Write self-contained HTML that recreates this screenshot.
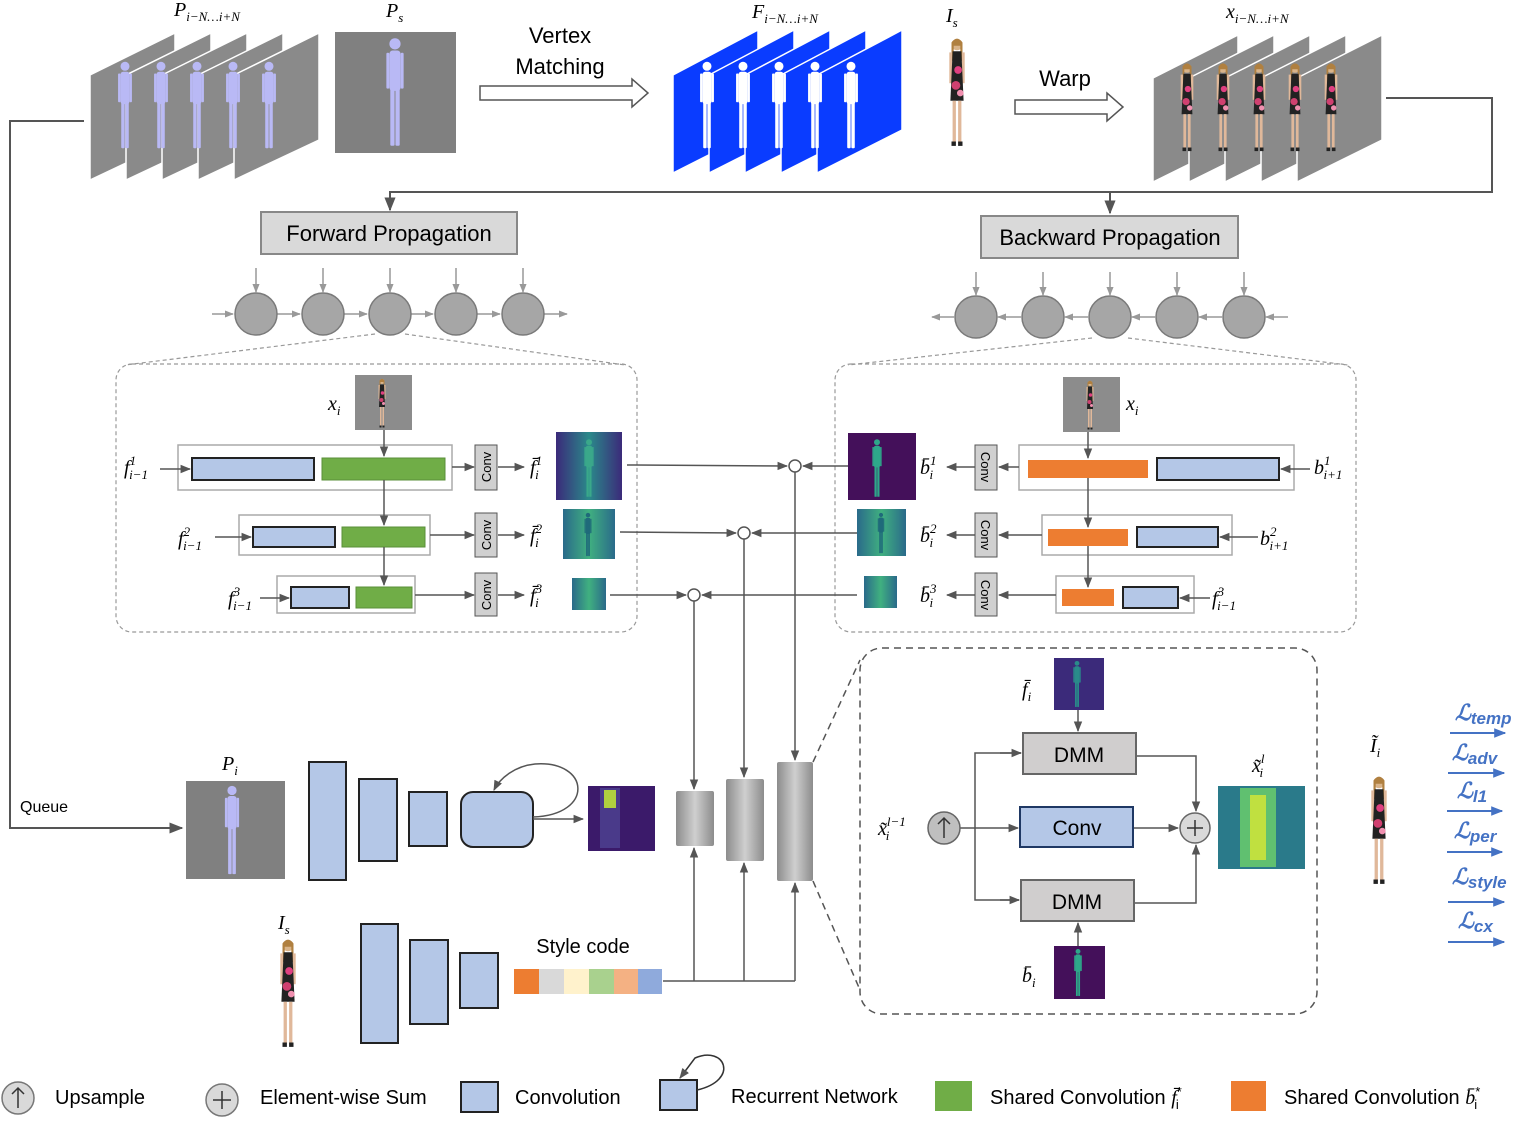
<!DOCTYPE html>
<html><head><meta charset="utf-8"><style>
html,body{margin:0;padding:0;background:#fff}
svg{display:block}
text{font-family:"Liberation Sans",sans-serif}
.m{font-family:"Liberation Serif",serif;font-style:italic;font-size:20px}
.s{font-size:13px}
.lab{font-size:22px}
.cv{font-size:13px}
</style></head><body>
<svg width="1519" height="1121" viewBox="0 0 1519 1121" xmlns="http://www.w3.org/2000/svg">
<defs>
<marker id="a" viewBox="0 0 10 10" refX="9" refY="5" markerWidth="7" markerHeight="7" orient="auto"><path d="M0,1 L10,5 L0,9 z" fill="#555"/></marker>
<marker id="ag" viewBox="0 0 10 10" refX="9" refY="5" markerWidth="6" markerHeight="6" orient="auto"><path d="M0,1 L10,5 L0,9 z" fill="#999"/></marker>
<marker id="ab" viewBox="0 0 10 10" refX="9" refY="5" markerWidth="6" markerHeight="6" orient="auto"><path d="M0,1 L10,5 L0,9 z" fill="#4472c4"/></marker>
<symbol id="p" viewBox="0 0 20 100">
<circle cx="10" cy="7" r="5"/><rect x="5" y="13" width="10" height="36" rx="3"/>
<rect x="2.3" y="15" width="2.6" height="32" rx="1"/><rect x="15.1" y="15" width="2.6" height="32" rx="1"/>
<rect x="5.8" y="46" width="3.8" height="52" rx="1"/><rect x="10.4" y="46" width="3.8" height="52" rx="1"/>
</symbol>
<symbol id="md" viewBox="0 0 20 100">
<circle cx="10" cy="7" r="5" fill="#d9b48a"/><path d="M5,5 Q10,-2 15,5 L15,22 L13,22 L13,8 L7,8 L7,22 L5,22z" fill="#b08040"/>
<rect x="3" y="14" width="2.5" height="28" fill="#e0b89a"/><rect x="14.5" y="14" width="2.5" height="28" fill="#e0b89a"/>
<path d="M6,13 L14,13 L16,58 L4,58z" fill="#222"/>
<circle cx="11" cy="30" r="3.5" fill="#e04080"/><circle cx="9" cy="44" r="4" fill="#d04070"/><circle cx="13" cy="51" r="3" fill="#f090b0"/>
<rect x="6" y="58" width="3" height="38" fill="#e0b89a"/><rect x="11" y="58" width="3" height="38" fill="#e0b89a"/>
<rect x="5" y="95" width="4" height="4" fill="#222"/><rect x="11" y="95" width="4" height="4" fill="#222"/>
</symbol>
<linearGradient id="gb" x1="0" x2="1"><stop offset="0" stop-color="#8c8c8c"/><stop offset=".5" stop-color="#cfcfcf"/><stop offset="1" stop-color="#8c8c8c"/></linearGradient>
<linearGradient id="feat" x1="0" x2="1"><stop offset="0" stop-color="#3b2a7a"/><stop offset=".5" stop-color="#2a8a8a"/><stop offset="1" stop-color="#3b2a7a"/></linearGradient>
<linearGradient id="feat2" x1="0" x2="1"><stop offset="0" stop-color="#2a6a8a"/><stop offset=".5" stop-color="#40b080"/><stop offset="1" stop-color="#2a6a8a"/></linearGradient>
</defs>

<g stroke="#fff" stroke-width="1.5">
<polygon points="90,75 175,33 175,140 90,180" fill="#8a8a8a"/>
<polygon points="126,75 211,33 211,140 126,180" fill="#8a8a8a"/>
<polygon points="162,75 247,33 247,140 162,180" fill="#8a8a8a"/>
<polygon points="198,75 283,33 283,140 198,180" fill="#8a8a8a"/>
<polygon points="234,75 319,33 319,140 234,180" fill="#8a8a8a"/>
</g>
<g fill="#b9b9f5"><use href="#p" x="116" y="60" width="18" height="90"/><use href="#p" x="152" y="60" width="18" height="90"/><use href="#p" x="188" y="60" width="18" height="90"/><use href="#p" x="224" y="60" width="18" height="90"/><use href="#p" x="260" y="60" width="18" height="90"/></g>
<text x="174" y="16" class="m">P<tspan class="s" dy="5">i−N…i+N</tspan></text>
<rect x="335" y="32" width="121" height="121" fill="#808080"/>
<use href="#p" x="380" y="36" width="30" height="112" fill="#b9b9f5"/>
<text x="386" y="17" class="m">P<tspan class="s" dy="5">s</tspan></text>
<text x="560" y="43" class="lab" text-anchor="middle">Vertex</text>
<text x="560" y="74" class="lab" text-anchor="middle">Matching</text>
<polygon points="480,86 632,86 632,79 648,93 632,107 632,100 480,100" fill="#fff" stroke="#555" stroke-width="1.5"/>

<g stroke="#fff" stroke-width="1.5" fill="#0a3cff">
<polygon points="673,75 758,30 758,130 673,173"/>
<polygon points="709,75 794,30 794,130 709,173"/>
<polygon points="745,75 830,30 830,130 745,173"/>
<polygon points="781,75 866,30 866,130 781,173"/>
<polygon points="817,75 902,30 902,130 817,173"/>
</g>
<g fill="#fff"><use href="#p" x="698" y="60" width="18" height="90"/><use href="#p" x="734" y="60" width="18" height="90"/><use href="#p" x="770" y="60" width="18" height="90"/><use href="#p" x="806" y="60" width="18" height="90"/><use href="#p" x="842" y="60" width="18" height="90"/></g>
<text x="752" y="18" class="m">F<tspan class="s" dy="5">i−N…i+N</tspan></text>
<use href="#md" x="944" y="37" width="26" height="110"/>
<text x="946" y="22" class="m">I<tspan class="s" dy="5">s</tspan></text>
<text x="1065" y="86" class="lab" text-anchor="middle">Warp</text>
<polygon points="1015,100 1107,100 1107,93 1123,107 1107,121 1107,114 1015,114" fill="#fff" stroke="#555" stroke-width="1.5"/>

<g stroke="#fff" stroke-width="1.5" fill="#8a8a8a">
<polygon points="1153,78 1238,35 1238,140 1153,182"/>
<polygon points="1189,78 1274,35 1274,140 1189,182"/>
<polygon points="1225,78 1310,35 1310,140 1225,182"/>
<polygon points="1261,78 1346,35 1346,140 1261,182"/>
<polygon points="1297,78 1382,35 1382,140 1297,182"/>
</g>
<use href="#md" x="1178" y="62" width="18" height="90"/><use href="#md" x="1214" y="62" width="18" height="90"/><use href="#md" x="1250" y="62" width="18" height="90"/><use href="#md" x="1286" y="62" width="18" height="90"/><use href="#md" x="1322" y="62" width="18" height="90"/>
<text x="1226" y="18" class="m">x<tspan class="s" dy="5">i−N…i+N</tspan></text>

<g fill="none" stroke="#555" stroke-width="2">
<polyline points="1386,98 1492,98 1492,192 390,192 390,210" marker-end="url(#a)"/>
<line x1="1110" y1="192" x2="1110" y2="213" marker-end="url(#a)"/>
<polyline points="84,121 10,121 10,828 182,828" marker-end="url(#a)"/>
</g>
<text x="20" y="812" font-size="16">Queue</text>

<rect x="261" y="212" width="256" height="42" fill="#d9d9d9" stroke="#888" stroke-width="2"/>
<text x="389" y="241" class="lab" text-anchor="middle">Forward Propagation</text>
<rect x="981" y="216" width="257" height="42" fill="#d9d9d9" stroke="#888" stroke-width="2"/>
<text x="1110" y="245" class="lab" text-anchor="middle">Backward Propagation</text>

<g stroke="#999" stroke-width="1.5" fill="none">
<line x1="212" y1="314" x2="233" y2="314" marker-end="url(#ag)"/><line x1="277" y1="314" x2="300" y2="314" marker-end="url(#ag)"/><line x1="344" y1="314" x2="367" y2="314" marker-end="url(#ag)"/><line x1="411" y1="314" x2="433" y2="314" marker-end="url(#ag)"/><line x1="477" y1="314" x2="500" y2="314" marker-end="url(#ag)"/><line x1="544" y1="314" x2="567" y2="314" marker-end="url(#ag)"/>
<line x1="256" y1="268" x2="256" y2="292" marker-end="url(#ag)"/><line x1="323" y1="268" x2="323" y2="292" marker-end="url(#ag)"/><line x1="390" y1="268" x2="390" y2="292" marker-end="url(#ag)"/><line x1="456" y1="268" x2="456" y2="292" marker-end="url(#ag)"/><line x1="523" y1="268" x2="523" y2="292" marker-end="url(#ag)"/>
<line x1="1288" y1="317" x2="1266" y2="317" marker-end="url(#ag)"/><line x1="1222" y1="317" x2="1199" y2="317" marker-end="url(#ag)"/><line x1="1155" y1="317" x2="1132" y2="317" marker-end="url(#ag)"/><line x1="1088" y1="317" x2="1065" y2="317" marker-end="url(#ag)"/><line x1="1021" y1="317" x2="998" y2="317" marker-end="url(#ag)"/><line x1="954" y1="317" x2="932" y2="317" marker-end="url(#ag)"/>
<line x1="976" y1="272" x2="976" y2="295" marker-end="url(#ag)"/><line x1="1043" y1="272" x2="1043" y2="295" marker-end="url(#ag)"/><line x1="1110" y1="272" x2="1110" y2="295" marker-end="url(#ag)"/><line x1="1177" y1="272" x2="1177" y2="295" marker-end="url(#ag)"/><line x1="1244" y1="272" x2="1244" y2="295" marker-end="url(#ag)"/>
</g>
<g fill="#a6a6a6" stroke="#7a7a7a" stroke-width="1.5">
<circle cx="256" cy="314" r="21"/><circle cx="323" cy="314" r="21"/><circle cx="390" cy="314" r="21"/><circle cx="456" cy="314" r="21"/><circle cx="523" cy="314" r="21"/>
<circle cx="976" cy="317" r="21"/><circle cx="1043" cy="317" r="21"/><circle cx="1110" cy="317" r="21"/><circle cx="1177" cy="317" r="21"/><circle cx="1244" cy="317" r="21"/>
</g>
<g stroke="#999" stroke-dasharray="4,3" fill="none" stroke-width="1.2">
<line x1="375" y1="334" x2="125" y2="365"/><line x1="405" y1="334" x2="625" y2="365"/>
<line x1="1092" y1="338" x2="848" y2="365"/><line x1="1128" y1="338" x2="1348" y2="365"/>
<rect x="116" y="364" width="521" height="268" rx="16"/><rect x="835" y="364" width="521" height="268" rx="16"/>
</g>

<rect x="355" y="375" width="57" height="55" fill="#8c8c8c"/><use href="#md" x="374" y="378" width="16" height="50"/>
<text x="328" y="410" class="m">x<tspan class="s" dy="5">i</tspan></text>
<g stroke="#aaa" stroke-width="1.5" fill="#fff">
<rect x="178" y="445" width="274" height="45"/><rect x="239" y="515" width="191" height="40"/><rect x="277" y="576" width="138" height="37"/>
</g>
<g stroke="#222" stroke-width="2">
<rect x="192" y="458" width="122" height="22" fill="#b4c7e7"/><rect x="253" y="527" width="82" height="20" fill="#b4c7e7"/><rect x="291" y="587" width="58" height="21" fill="#b4c7e7"/>
</g>
<g fill="#70ad47" stroke="#5a8f38"><rect x="322" y="458" width="123" height="22"/><rect x="342" y="527" width="83" height="20"/><rect x="356" y="587" width="56" height="21"/></g>
<g stroke="#555" stroke-width="1.5" fill="none">
<line x1="384" y1="430" x2="384" y2="456" marker-end="url(#a)"/><line x1="384" y1="480" x2="384" y2="525" marker-end="url(#a)"/><line x1="384" y1="547" x2="384" y2="585" marker-end="url(#a)"/>
<line x1="160" y1="469" x2="190" y2="469" marker-end="url(#a)"/><line x1="215" y1="537" x2="251" y2="537" marker-end="url(#a)"/><line x1="260" y1="598" x2="289" y2="598" marker-end="url(#a)"/>
<line x1="452" y1="467" x2="474" y2="467" marker-end="url(#a)"/><line x1="430" y1="535" x2="474" y2="535" marker-end="url(#a)"/><line x1="415" y1="595" x2="474" y2="595" marker-end="url(#a)"/>
<line x1="498" y1="467" x2="524" y2="467" marker-end="url(#a)"/><line x1="498" y1="535" x2="524" y2="535" marker-end="url(#a)"/><line x1="498" y1="595" x2="524" y2="595" marker-end="url(#a)"/>
</g>
<g fill="#d0d0d0" stroke="#555"><rect x="475" y="445" width="22" height="45"/><rect x="475" y="513" width="22" height="44"/><rect x="475" y="573" width="22" height="43"/>
<rect x="975" y="445" width="22" height="45"/><rect x="975" y="513" width="22" height="44"/><rect x="975" y="573" width="22" height="43"/></g>
<g class="cv"><text transform="translate(491,467) rotate(-90)" text-anchor="middle">Conv</text><text transform="translate(491,535) rotate(-90)" text-anchor="middle">Conv</text><text transform="translate(491,595) rotate(-90)" text-anchor="middle">Conv</text>
<text transform="translate(981,467) rotate(90)" text-anchor="middle">Conv</text><text transform="translate(981,535) rotate(90)" text-anchor="middle">Conv</text><text transform="translate(981,595) rotate(90)" text-anchor="middle">Conv</text></g>
<text x="124" y="474" class="m">f<tspan class="s" dy="-9">1</tspan><tspan class="s" dx="-7" dy="14">i−1</tspan></text>
<text x="178" y="545" class="m">f<tspan class="s" dy="-9">2</tspan><tspan class="s" dx="-7" dy="14">i−1</tspan></text>
<text x="228" y="605" class="m">f<tspan class="s" dy="-9">3</tspan><tspan class="s" dx="-7" dy="14">i−1</tspan></text>
<text x="530" y="474" class="m">f̄<tspan class="s" dy="-9">1</tspan><tspan class="s" dx="-7" dy="14">i</tspan></text>
<text x="530" y="542" class="m">f̄<tspan class="s" dy="-9">2</tspan><tspan class="s" dx="-7" dy="14">i</tspan></text>
<text x="530" y="602" class="m">f̄<tspan class="s" dy="-9">3</tspan><tspan class="s" dx="-7" dy="14">i</tspan></text>
<rect x="556" y="432" width="66" height="68" fill="url(#feat)"/><use href="#p" x="580" y="438" width="18" height="60" fill="#3aa88a"/>
<rect x="563" y="509" width="52" height="50" fill="url(#feat2)"/><use href="#p" x="581" y="512" width="14" height="45" fill="#1f6a7a"/>
<rect x="572" y="578" width="34" height="32" fill="url(#feat2)"/>

<rect x="1063" y="377" width="57" height="55" fill="#8c8c8c"/><use href="#md" x="1082" y="380" width="16" height="50"/>
<text x="1126" y="410" class="m">x<tspan class="s" dy="5">i</tspan></text>
<g stroke="#aaa" stroke-width="1.5" fill="#fff">
<rect x="1019" y="445" width="275" height="45"/><rect x="1042" y="515" width="190" height="40"/><rect x="1056" y="576" width="138" height="37"/>
</g>
<g fill="#ed7d31"><rect x="1028" y="460" width="120" height="18"/><rect x="1048" y="529" width="80" height="17"/><rect x="1062" y="589" width="52" height="17"/></g>
<g stroke="#222" stroke-width="2" fill="#b4c7e7"><rect x="1157" y="458" width="122" height="22"/><rect x="1137" y="527" width="81" height="20"/><rect x="1123" y="587" width="55" height="21"/></g>
<g stroke="#555" stroke-width="1.5" fill="none">
<line x1="1088" y1="432" x2="1088" y2="458" marker-end="url(#a)"/><line x1="1088" y1="478" x2="1088" y2="527" marker-end="url(#a)"/><line x1="1088" y1="546" x2="1088" y2="587" marker-end="url(#a)"/>
<line x1="1310" y1="469" x2="1281" y2="469" marker-end="url(#a)"/><line x1="1258" y1="537" x2="1220" y2="537" marker-end="url(#a)"/><line x1="1210" y1="598" x2="1180" y2="598" marker-end="url(#a)"/>
<line x1="1019" y1="467" x2="999" y2="467" marker-end="url(#a)"/><line x1="1042" y1="535" x2="999" y2="535" marker-end="url(#a)"/><line x1="1056" y1="595" x2="999" y2="595" marker-end="url(#a)"/>
<line x1="975" y1="467" x2="947" y2="467" marker-end="url(#a)"/><line x1="975" y1="535" x2="947" y2="535" marker-end="url(#a)"/><line x1="975" y1="595" x2="947" y2="595" marker-end="url(#a)"/>
</g>
<text x="920" y="474" class="m">b̄<tspan class="s" dy="-9">1</tspan><tspan class="s" dx="-7" dy="14">i</tspan></text>
<text x="920" y="542" class="m">b̄<tspan class="s" dy="-9">2</tspan><tspan class="s" dx="-7" dy="14">i</tspan></text>
<text x="920" y="602" class="m">b̄<tspan class="s" dy="-9">3</tspan><tspan class="s" dx="-7" dy="14">i</tspan></text>
<text x="1314" y="474" class="m">b<tspan class="s" dy="-9">1</tspan><tspan class="s" dx="-7" dy="14">i+1</tspan></text>
<text x="1260" y="545" class="m">b<tspan class="s" dy="-9">2</tspan><tspan class="s" dx="-7" dy="14">i+1</tspan></text>
<text x="1212" y="605" class="m">f<tspan class="s" dy="-9">3</tspan><tspan class="s" dx="-7" dy="14">i−1</tspan></text>
<rect x="848" y="433" width="68" height="67" fill="#44105a"/><use href="#p" x="868" y="438" width="18" height="60" fill="#2ea88a"/>
<rect x="857" y="509" width="49" height="47" fill="url(#feat2)"/><use href="#p" x="874" y="512" width="14" height="42" fill="#1f6a7a"/>
<rect x="864" y="576" width="33" height="32" fill="url(#feat2)"/>

<g stroke="#555" stroke-width="1.5" fill="none">
<line x1="627" y1="465" x2="787" y2="466" marker-end="url(#a)"/><line x1="848" y1="466" x2="803" y2="466" marker-end="url(#a)"/>
<line x1="620" y1="532" x2="736" y2="533" marker-end="url(#a)"/><line x1="857" y1="533" x2="752" y2="533" marker-end="url(#a)"/>
<line x1="610" y1="595" x2="686" y2="595" marker-end="url(#a)"/><line x1="857" y1="595" x2="702" y2="595" marker-end="url(#a)"/>
<line x1="795" y1="472" x2="795" y2="760" marker-end="url(#a)"/><line x1="744" y1="539" x2="744" y2="777" marker-end="url(#a)"/><line x1="694" y1="601" x2="694" y2="789" marker-end="url(#a)"/>
<polyline points="663,981 795,981"/>
<line x1="694" y1="981" x2="694" y2="848" marker-end="url(#a)"/><line x1="744" y1="981" x2="744" y2="863" marker-end="url(#a)"/><line x1="795" y1="981" x2="795" y2="883" marker-end="url(#a)"/>
</g>
<g fill="#fff" stroke="#555" stroke-width="1.5"><circle cx="795" cy="466" r="6"/><circle cx="744" cy="533" r="6"/><circle cx="694" cy="595" r="6"/></g>
<g fill="url(#gb)"><rect x="676" y="791" width="38" height="55" rx="2"/><rect x="726" y="779" width="38" height="82" rx="2"/><rect x="777" y="762" width="36" height="119" rx="2"/></g>

<text x="222" y="770" class="m">P<tspan class="s" dy="5">i</tspan></text>
<rect x="186" y="781" width="99" height="98" fill="#808080"/><use href="#p" x="220" y="784" width="24" height="92" fill="#b9b9f5"/>
<g fill="#b4c7e7" stroke="#222" stroke-width="2">
<rect x="309" y="762" width="37" height="118"/><rect x="359" y="779" width="38" height="82"/><rect x="409" y="792" width="38" height="54"/>
<rect x="461" y="792" width="72" height="55" rx="12"/>
<rect x="361" y="924" width="37" height="119"/><rect x="410" y="940" width="38" height="84"/><rect x="460" y="953" width="38" height="55"/>
</g>
<path d="M533,817 C595,815 590,760 535,764 C515,766 500,778 494,790" fill="none" stroke="#555" stroke-width="1.5" marker-end="url(#a)"/>
<line x1="533" y1="819" x2="583" y2="819" stroke="#555" stroke-width="1.5" marker-end="url(#a)"/>
<rect x="588" y="786" width="67" height="65" fill="#3b1a6a"/><rect x="600" y="788" width="20" height="60" fill="#4a3a8a"/><rect x="604" y="790" width="12" height="18" fill="#b0d040"/>
<text x="278" y="929" class="m">I<tspan class="s" dy="5">s</tspan></text>
<use href="#md" x="274" y="938" width="28" height="110"/>
<text x="583" y="953" font-size="20" text-anchor="middle">Style code</text>
<rect x="514" y="969" width="25" height="25" fill="#ed7d31"/><rect x="539" y="969" width="25" height="25" fill="#d9d9d9"/><rect x="564" y="969" width="25" height="25" fill="#fff2cc"/><rect x="589" y="969" width="25" height="25" fill="#a9d18e"/><rect x="614" y="969" width="24" height="25" fill="#f4b183"/><rect x="638" y="969" width="24" height="25" fill="#8faadc"/>

<g stroke="#555" stroke-dasharray="7,5" fill="none" stroke-width="1.5">
<rect x="860" y="648" width="457" height="366" rx="22"/>
<line x1="813" y1="762" x2="860" y2="660"/><line x1="813" y1="881" x2="860" y2="990"/>
</g>
<text x="1022" y="696" class="m">f̄<tspan class="s" dy="5">i</tspan></text>
<rect x="1054" y="658" width="50" height="52" fill="#3b2a7a"/><use href="#p" x="1070" y="660" width="14" height="48" fill="#2a8a8a"/>
<text x="1022" y="982" class="m">b̄<tspan class="s" dy="5">i</tspan></text>
<rect x="1054" y="946" width="51" height="53" fill="#44105a"/><use href="#p" x="1071" y="948" width="14" height="49" fill="#2ea88a"/>
<g stroke="#555" stroke-width="1.5" fill="none">
<line x1="1078" y1="710" x2="1078" y2="731" marker-end="url(#a)"/><line x1="1078" y1="946" x2="1078" y2="923" marker-end="url(#a)"/>
<line x1="960" y1="828" x2="1018" y2="828" marker-end="url(#a)"/>
<polyline points="1021,753 975,753 975,900 1019,900" /><line x1="1000" y1="753" x2="1021" y2="753" marker-end="url(#a)"/><line x1="1000" y1="900" x2="1019" y2="900" marker-end="url(#a)"/>
<polyline points="1136,756 1196,756 1196,811" marker-end="url(#a)"/>
<line x1="1133" y1="828" x2="1178" y2="828" marker-end="url(#a)"/>
<polyline points="1134,903 1196,903 1196,845" marker-end="url(#a)"/>
</g>
<rect x="1023" y="733" width="113" height="41" fill="#d0cece" stroke="#666" stroke-width="2"/>
<rect x="1020" y="807" width="113" height="40" fill="#b4c7e7" stroke="#1f3864" stroke-width="2"/>
<rect x="1021" y="880" width="113" height="41" fill="#d0cece" stroke="#666" stroke-width="2"/>
<text x="1079" y="762" font-size="21" text-anchor="middle">DMM</text>
<text x="1077" y="835" font-size="21" text-anchor="middle">Conv</text>
<text x="1077" y="909" font-size="21" text-anchor="middle">DMM</text>
<circle cx="944" cy="828" r="16" fill="#bfbfbf" stroke="#666" stroke-width="1.5"/>
<path d="M944,838 V818 M938,824 L944,818 L950,824" stroke="#333" stroke-width="1.5" fill="none"/>
<circle cx="1195" cy="828" r="15" fill="#d9d9d9" stroke="#666" stroke-width="1.5"/>
<path d="M1187,828 H1203 M1195,820 V836" stroke="#333" stroke-width="1.5"/>
<text x="878" y="835" class="m">x̃<tspan class="s" dy="-9">l−1</tspan><tspan class="s" dx="-20" dy="14">i</tspan></text>
<text x="1252" y="772" class="m">x̃<tspan class="s" dy="-9">l</tspan><tspan class="s" dx="-5" dy="14">i</tspan></text>
<rect x="1218" y="786" width="87" height="83" fill="#2a7a8a"/><rect x="1240" y="788" width="36" height="79" fill="#60c070"/><rect x="1250" y="795" width="16" height="65" fill="#c0e040"/>

<text x="1370" y="752" class="m">Ĩ<tspan class="s" dy="5">i</tspan></text>
<use href="#md" x="1365" y="775" width="28" height="110"/>
<g fill="#4472c4" font-family="Liberation Serif,serif" font-style="italic" font-weight="bold">
<text x="1455" y="720" font-size="22">ℒ<tspan font-size="17" dy="4">temp</tspan></text>
<text x="1452" y="760" font-size="22">ℒ<tspan font-size="17" dy="4">adv</tspan></text>
<text x="1457" y="798" font-size="22">ℒ<tspan font-size="17" dy="4">l1</tspan></text>
<text x="1454" y="838" font-size="22">ℒ<tspan font-size="17" dy="4">per</tspan></text>
<text x="1452" y="884" font-size="22">ℒ<tspan font-size="17" dy="4">style</tspan></text>
<text x="1458" y="928" font-size="22">ℒ<tspan font-size="17" dy="4">cx</tspan></text>
</g>
<g stroke="#4472c4" stroke-width="2"><line x1="1450" y1="733" x2="1505" y2="733" marker-end="url(#ab)"/><line x1="1448" y1="773" x2="1504" y2="773" marker-end="url(#ab)"/><line x1="1447" y1="811" x2="1502" y2="811" marker-end="url(#ab)"/><line x1="1447" y1="852" x2="1502" y2="852" marker-end="url(#ab)"/><line x1="1448" y1="902" x2="1504" y2="902" marker-end="url(#ab)"/><line x1="1448" y1="942" x2="1504" y2="942" marker-end="url(#ab)"/></g>

<circle cx="18" cy="1098" r="16" fill="#d9d9d9" stroke="#777" stroke-width="1.5"/><path d="M18,1108 V1088 M12,1094 L18,1088 L24,1094" stroke="#333" stroke-width="1.5" fill="none"/>
<text x="55" y="1104" font-size="20">Upsample</text>
<circle cx="222" cy="1100" r="16" fill="#d9d9d9" stroke="#777" stroke-width="1.5"/><path d="M213,1100 H231 M222,1091 V1109" stroke="#333" stroke-width="1.5"/>
<text x="260" y="1104" font-size="20">Element-wise Sum</text>
<rect x="461" y="1082" width="37" height="30" fill="#b4c7e7" stroke="#222" stroke-width="2"/>
<text x="515" y="1104" font-size="20">Convolution</text>
<rect x="660" y="1080" width="37" height="30" fill="#b4c7e7" stroke="#222" stroke-width="2"/>
<path d="M697,1090 C740,1080 725,1045 695,1058 L680,1078" fill="none" stroke="#333" stroke-width="1.5" marker-end="url(#a)"/>
<text x="731" y="1103" font-size="20">Recurrent Network</text>
<rect x="935" y="1081" width="37" height="30" fill="#70ad47"/>
<text x="990" y="1104" font-size="20">Shared Convolution <tspan font-family="Liberation Serif,serif" font-style="italic">f̄</tspan><tspan font-size="13" dy="-8">*</tspan><tspan font-size="13" dx="-6" dy="13">i</tspan></text>
<rect x="1231" y="1081" width="35" height="30" fill="#ed7d31"/>
<text x="1284" y="1104" font-size="20">Shared Convolution <tspan font-family="Liberation Serif,serif" font-style="italic">b̄</tspan><tspan font-size="13" dy="-8">*</tspan><tspan font-size="13" dx="-6" dy="13">i</tspan></text>
</svg>
</body></html>
